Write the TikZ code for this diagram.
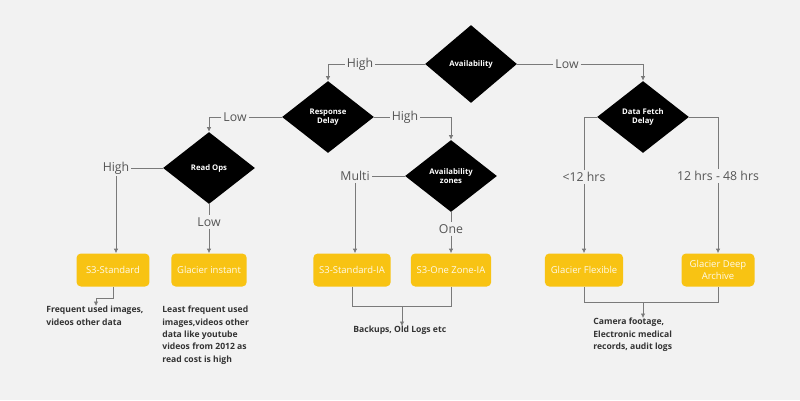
\documentclass[tikz,border=0pt]{standalone}
\usepackage{fontspec}
\setmainfont{Open Sans}
\usetikzlibrary{shapes.geometric, arrows.meta, positioning}
\definecolor{bgcol}{HTML}{F2F2F2}
\definecolor{boxcol}{HTML}{F8C313}
\definecolor{linecol}{HTML}{7A7A7A}
\definecolor{txtcol}{HTML}{555555}
\definecolor{desccol}{HTML}{333333}

\begin{document}
\begin{tikzpicture}[
        x = 0.02cm, y = -0.02cm,
        > = {Latex[width=0.9mm,length=0.9mm]},
        line width = 0.4pt,
        decision/.style = {
            diamond,
            fill = black,
            text = white,
            inner sep = 0pt,
            minimum width = 1.84cm,
            minimum height = 1.44cm,
            align = center,
            font = \fontsize{4.4}{5.4}\selectfont\bfseries
        },
        store/.style = {
            rectangle,
            fill = boxcol,
            text = white!92!boxcol,
            rounded corners = 2.5pt,
            minimum width = 1.46cm,
            minimum height = 0.66cm,
            align = center,
            font = \fontsize{5.4}{6.6}\selectfont
        },
        choice/.style = {
            fill = bgcol,
            text = txtcol,
            inner sep = 1pt,
            font = \fontsize{7}{8}\selectfont
        },
        note/.style = {
            text = desccol,
            align = left,
            inner sep = 0pt,
            font = \fontsize{4.9}{7}\selectfont\bfseries
        },
        link/.style = {draw = linecol}
    ]

        \fill[bgcol] (0,0) rectangle (800,400);
        \useasboundingbox (0,0) rectangle (800,400);

        % decisions
        \node[decision, minimum height=1.56cm] (avail) at (471,64) {Availability};
        \node[decision] (resp) at (328,117) {Response\\Delay};
        \node[decision] (ops) at (209,168) {Read Ops};
        \node[decision] (zones) at (451,176) {Availability\\zones};
        \node[decision] (fetch) at (643,117) {Data Fetch\\Delay};

        % storage classes
        \node[store] (std) at (113,270) {S3-Standard};
        \node[store] (inst) at (209,270) {Glacier instant};
        \node[store] (stdia) at (352,270) {S3-Standard-IA};
        \node[store] (onez) at (451,270) {S3-One Zone-IA};
        \node[store] (flex) at (584,270) {Glacier Flexible};
        \node[store] (deep) at (718,270) {Glacier Deep\\Archive};

        % branch labels
        \node[choice] (aHigh) at (360,64) {High};
        \node[choice] (aLow) at (567,64) {Low};
        \node[choice] (rLow) at (235,117) {Low};
        \node[choice] (rHigh) at (405,117) {High};
        \node[choice] (oHigh) at (116,168) {High};
        \node[choice] (oLow) at (209,222) {Low};
        \node[choice] (zMulti) at (355,176) {Multi};
        \node[choice] (zOne) at (451,229) {One};
        \node[choice] (fShort) at (584,177) {<12 hrs};
        \node[choice] (fLong) at (718,176) {12 hrs - 48 hrs};

        % notes
        \node[note, anchor=north west] (nStd) at (46,306) {Frequent used images,\\videos other data};
        \node[note, anchor=north west] (nInst) at (162,306) {Least frequent used\\images,videos other\\data like youtube\\videos from 2012 as\\read cost is high};
        \node[note, anchor=north west] (nIA) at (353,326) {Backups, Old Logs etc};
        \node[note, anchor=north west] (nGlac) at (593,318) {Camera footage,\\Electronic medical\\records, audit logs};

        \coordinate (jIA) at (402,306);
        \coordinate (jGlac) at (643,302);
        \coordinate (jStd) at (96,298);

        % connectors
        \draw[link] (avail.west) -- (aHigh.east);
        \draw[link, ->] (aHigh.west) -| (resp.north);
        \draw[link] (avail.east) -- (aLow.west);
        \draw[link, ->] (aLow.east) -| (fetch.north);

        \draw[link] (resp.west) -- (rLow.east);
        \draw[link, ->] (rLow.west) -| (ops.north);
        \draw[link] (resp.east) -- (rHigh.west);
        \draw[link, ->] (rHigh.east) -| (zones.north);

        \draw[link] (ops.west) -- (oHigh.east);
        \draw[link, ->] (oHigh.south) -- (oHigh.south |- std.north);
        \draw[link] (ops.south) -- (oLow.north);
        \draw[link, ->] (oLow.south) -- (inst.north);

        \draw[link] (zones.west) -- (zMulti.east);
        \draw[link, ->] (zMulti.south) -- (zMulti.south |- stdia.north);
        \draw[link] (zones.south) -- (zOne.north);
        \draw[link, ->] (zOne.south) -- (onez.north);

        \draw[link] (fetch.west) -| (fShort.north);
        \draw[link, ->] (fShort.south) -- (flex.north);
        \draw[link] (fetch.east) -| (fLong.north);
        \draw[link, ->] (fLong.south) -- (deep.north);

        \draw[link] (std.south) |- (jStd);
        \draw[link, ->] (jStd) -- (nStd.north -| jStd);
        \draw[link] (stdia.south) |- (onez.south |- jIA) -- (onez.south);
        \draw[link, ->] (jIA) -- (nIA.north -| jIA);
        \draw[link] (flex.south) |- (deep.south |- jGlac) -- (deep.south);
        \draw[link, ->] (jGlac) -- (nGlac.north -| jGlac);

    \end{tikzpicture}
\end{document}
